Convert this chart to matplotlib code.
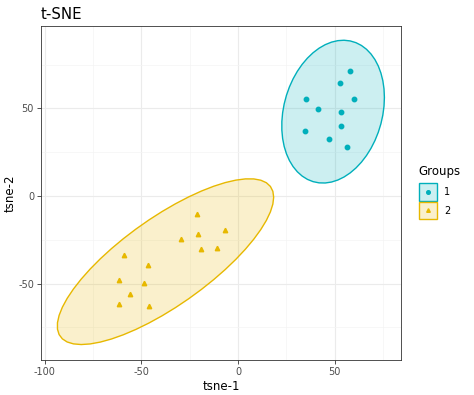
import numpy as np
import matplotlib
matplotlib.use("Agg")
import matplotlib.pyplot as plt
from matplotlib.patches import Polygon, Rectangle

plt.rcParams["axes.unicode_minus"] = False

# tsne coordinates
g1_x = [57.7, 52.6, 35.3, 59.8, 41.5, 53.1, 53.4, 34.8, 47.1, 56.4]
g1_y = [71.3, 64.6, 55.2, 55.4, 49.9, 48.0, 39.8, 37.1, 32.6, 27.8]
g2_x = [-21.2, -20.5, -6.9, -29.5, -19.3, -10.9, -58.8, -46.7, -61.7, -48.6, -55.8, -61.7, -46.2]
g2_y = [-10.1, -21.7, -19.2, -24.8, -30.3, -29.9, -33.7, -39.6, -47.8, -49.9, -56.0, -61.7, -63.0]
groups = ["1", "2"]
colors = ["#00AFBB", "#E7B800"]
markers = ["o", "^"]


def qf95(dfd):
    # F quantile at 0.95 with dfn = 2 (closed form)
    return dfd / 2 * (0.05 ** (-2 / dfd) - 1)


def ellipse_pts(xs, ys, segments=51):
    # same recipe as ggplot stat_ellipse(type = "norm", level = 0.95)
    x = np.column_stack([xs, ys])
    loc = x.mean(axis=0)
    cov = np.cov(x.T)
    chol = np.linalg.cholesky(cov).T  # upper, like R's chol
    radius = np.sqrt(2 * qf95(len(xs) - 1))
    ang = np.linspace(0, 2 * np.pi, segments + 1)
    circle = np.column_stack([np.cos(ang), np.sin(ang)])
    return loc + radius * circle @ chol


W, H = 474, 395
fig = plt.figure(figsize=(W / 100, H / 100), dpi=100)
ax = fig.add_axes([41 / W, 35 / H, 360 / W, 334 / H])

for xs, ys, c, m in zip([g1_x, g2_x], [g1_y, g2_y], colors, markers):
    pts = ellipse_pts(xs, ys)
    ax.add_patch(Polygon(pts, closed=True, facecolor=c, alpha=0.2, edgecolor="none", zorder=2))
    ax.add_patch(Polygon(pts, closed=True, facecolor="none", edgecolor=c, lw=1.0, zorder=3))
    ax.plot(xs, ys, linestyle="none", marker=m, color=c, markersize=3.2, zorder=4)

ax.set_xlim(-101.9, 84.3)
ax.set_ylim(-93.7, 97.1)
ax.set_xticks([-100, -50, 0, 50])
ax.set_yticks([-50, 0, 50])
ax.set_xticks([-75, -25, 25, 75], minor=True)
ax.set_yticks([-75, -25, 25, 75], minor=True)
ax.grid(True, which="major", color="#EBEBEB", lw=0.8, zorder=0)
ax.grid(True, which="minor", color="#F4F4F4", lw=0.5, zorder=0)
ax.set_axisbelow(True)
ax.tick_params(which="major", length=3, width=0.6, color="#333333", labelsize=7,
               labelcolor="#4D4D4D", pad=2)
ax.tick_params(which="minor", length=0)
for s in ax.spines.values():
    s.set_color("#333333")
    s.set_linewidth(0.6)

ax.set_xlabel("tsne-1", fontsize=8.5, labelpad=2)
ax.set_ylabel("tsne-2", fontsize=8.5)
ax.yaxis.set_label_coords(-24 / 360, 0.5)
ax.set_title("t-SNE", fontsize=10.8, loc="left", pad=5)

# legend drawn by hand, in pixel units, so the keys come out as ggplot's 18px boxes
lax = fig.add_axes([0, 0, 1, 1])
lax.set_xlim(0, W)
lax.set_ylim(H, 0)
lax.axis("off")
lax.text(418, 172, "Groups", fontsize=8.5, ha="left", va="center")
for i, (g, c, m) in enumerate(zip(groups, colors, markers)):
    y0 = 183 + 18.5 * i
    lax.add_patch(Rectangle((419.5, y0), 17.5, 17.5, facecolor=matplotlib.colors.to_rgba(c, 0.2),
                            edgecolor=c, lw=1.0))
    lax.plot([428.2], [y0 + 8.9], marker=m, color=c, markersize=2.6, linestyle="none")
    lax.text(444, y0 + 9, g, fontsize=7, ha="left", va="center")

fig.savefig("out.png", dpi=100)
